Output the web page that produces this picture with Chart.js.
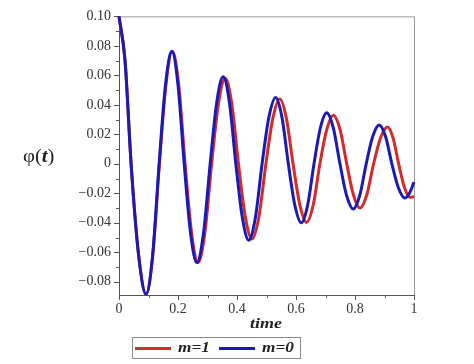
<!DOCTYPE html>
<html>
<head>
<meta charset="utf-8">
<script src="https://cdn.jsdelivr.net/npm/chart.js@4"></script>
<style>
  body { margin: 0; background: #fff; }
  #wrap { position: relative; width: 474px; height: 364px; font-family: "Liberation Serif", serif; color: #222; }
  #chart { position: absolute; left: 0; top: 0; }
  .lbl { position: absolute; white-space: nowrap; transform-origin: center; }
  #ylab { left: 25px; top: 146px; font-size: 18px; transform: scaleX(1.15); }
  #xlab { left: 248px; top: 315px; font-size: 15px; font-weight: bold; font-style: italic; width: 36px; text-align: center; transform: scaleX(1.2); }
  #legend { position: absolute; left: 132px; top: 337px; width: 169px; height: 22px; border: 1px solid #888; box-sizing: border-box; }
  .sw { position: absolute; top: 9px; width: 36px; height: 3px; }
  .lt { position: absolute; top: 1px; font-size: 15px; font-weight: bold; font-style: italic; transform: scaleX(1.15); transform-origin: left center; }
</style>
</head>
<body>
<div id="wrap">
  <canvas id="chart" width="474" height="364"></canvas>
  <div id="ylab" class="lbl">φ(<b><i>t</i></b>)</div>
  <div id="xlab" class="lbl">time</div>
  <div id="legend">
    <div class="sw" style="left:2px;background:#d42a2a"></div>
    <div class="lt" style="left:45px">m=1</div>
    <div class="sw" style="left:86px;background:#1a1ab4"></div>
    <div class="lt" style="left:129px">m=0</div>
  </div>
</div>
<script>
// values (extremes, zero crossings and points in between)
const tRed = [0, 0.0205, 0.041, 0.0665, 0.092, 0.1145, 0.137, 0.159, 0.181, 0.2025, 0.224, 0.246, 0.268, 0.291, 0.314,
    0.337, 0.36, 0.3825, 0.405, 0.428, 0.451, 0.4745, 0.498, 0.5215, 0.545, 0.5675, 0.59, 0.613, 0.636, 0.6585, 0.681,
    0.704, 0.727, 0.7495, 0.772, 0.7945, 0.817, 0.84, 0.863, 0.8865, 0.91, 0.929, 0.948, 0.9675, 0.987, 1.0];
const phiRed = [0.1, 0.07, 0, -0.062, -0.0885, -0.062, 0, 0.0534, 0.0763, 0.0534, 0, -0.0469, -0.067, -0.0469, 0,
    0.0406, 0.058, 0.0406, 0, -0.0357, -0.051, -0.0357, 0, 0.0308, 0.044, 0.0308, 0, -0.0278, -0.0397, -0.0278, 0,
    0.0231, 0.033, 0.0231, 0, -0.021, -0.030, -0.021, 0, 0.0175, 0.025, 0.0175, 0, -0.016, -0.0228, -0.0222];

const tBlue = [0, 0.0205, 0.041, 0.0665, 0.092, 0.114, 0.136, 0.1575, 0.179, 0.2, 0.221, 0.2425, 0.264, 0.2865, 0.309,
    0.331, 0.353, 0.3745, 0.396, 0.418, 0.44, 0.4625, 0.485, 0.508, 0.531, 0.5525, 0.574, 0.596, 0.618, 0.6395, 0.661,
    0.6825, 0.704, 0.7265, 0.749, 0.7715, 0.794, 0.816, 0.838, 0.86, 0.882, 0.9035, 0.925, 0.947, 0.969, 0.985, 1.0];
const phiBlue = [0.1, 0.07, 0, -0.062, -0.0885, -0.062, 0, 0.0534, 0.0763, 0.0534, 0, -0.0469, -0.067, -0.0469, 0,
    0.0413, 0.059, 0.0413, 0, -0.0363, -0.0518, -0.0363, 0, 0.0315, 0.045, 0.0315, 0, -0.028, -0.040, -0.028, 0,
    0.0243, 0.0347, 0.0243, 0, -0.0215, -0.0307, -0.0215, 0, 0.0185, 0.0264, 0.0185, 0, -0.0162, -0.0232, -0.0198, -0.0124];

const xTicks = [0, 0.2, 0.4, 0.6, 0.8, 1];
const xMinor = [0.1, 0.3, 0.5, 0.7, 0.9];
const yTicks = [-0.08, -0.06, -0.04, -0.02, 0, 0.02, 0.04, 0.06, 0.08, 0.1];
const yMinor = [-0.07, -0.05, -0.03, -0.01, 0.01, 0.03, 0.05, 0.07, 0.09];

const toPoints = (ts, ys) => ts.map((t, i) => ({ x: t, y: ys[i] }));

// frame + tick marks like the maple plot
const framePlugin = {
    id: 'frame',
    beforeDatasetsDraw(chart) {
        const { ctx, chartArea: a, scales } = chart;
        ctx.save();
        ctx.lineWidth = 1;
        ctx.strokeStyle = '#999';
        ctx.beginPath();
        ctx.moveTo(a.left, a.top + 0.5);
        ctx.lineTo(a.right + 0.5, a.top + 0.5);
        ctx.lineTo(a.right + 0.5, a.bottom);
        ctx.stroke();
        ctx.strokeStyle = '#555';
        ctx.beginPath();
        ctx.moveTo(a.left + 0.5, a.top);
        ctx.lineTo(a.left + 0.5, a.bottom + 0.5);
        ctx.lineTo(a.right, a.bottom + 0.5);
        ctx.stroke();
        ctx.beginPath();
        yTicks.forEach(v => { const y = Math.round(scales.y.getPixelForValue(v)) + 0.5; ctx.moveTo(a.left - 5, y); ctx.lineTo(a.left, y); });
        yMinor.forEach(v => { const y = Math.round(scales.y.getPixelForValue(v)) + 0.5; ctx.moveTo(a.left - 3, y); ctx.lineTo(a.left, y); });
        xTicks.forEach(v => { const x = Math.round(scales.x.getPixelForValue(v)) + 0.5; ctx.moveTo(x, a.bottom); ctx.lineTo(x, a.bottom + 5); });
        xMinor.forEach(v => { const x = Math.round(scales.x.getPixelForValue(v)) + 0.5; ctx.moveTo(x, a.bottom); ctx.lineTo(x, a.bottom + 3); });
        ctx.stroke();
        ctx.restore();
    }
};

const ctx = document.getElementById('chart').getContext('2d');

new Chart(ctx, {
    type: 'line',
    data: {
        datasets: [{
            label: 'm=1',
            data: toPoints(tRed, phiRed),
            borderColor: '#d42a2a',
            order: 1
        }, {
            label: 'm=0',
            data: toPoints(tBlue, phiBlue),
            borderColor: '#1a1ab4',
            order: 0
        }]
    },
    options: {
        responsive: false,
        animation: false,
        layout: { padding: { top: 13, right: 60, left: 0, bottom: 0 } },
        elements: {
            line: { borderWidth: 3, cubicInterpolationMode: 'monotone', fill: false, borderJoinStyle: 'round' },
            point: { radius: 0 }
        },
        datasets: { line: { clip: false } },
        plugins: { legend: { display: false }, tooltip: { enabled: false } },
        scales: {
            x: {
                type: 'linear',
                min: 0,
                max: 1,
                afterBuildTicks: s => { s.ticks = xTicks.map(v => ({ value: v })); },
                afterFit: s => { s.height = 69; },
                grid: { display: false, drawTicks: false },
                border: { display: false },
                ticks: {
                    padding: 6,
                    maxRotation: 0,
                    color: '#333',
                    font: { family: 'Liberation Serif', size: 14 },
                    callback: v => String(v)
                }
            },
            y: {
                min: -0.089,
                max: 0.1,
                afterBuildTicks: s => { s.ticks = yTicks.map(v => ({ value: v })); },
                afterFit: s => { s.width = 119; },
                grid: { display: false, drawTicks: false },
                border: { display: false },
                ticks: {
                    padding: 8,
                    color: '#333',
                    font: { family: 'Liberation Serif', size: 14 },
                    callback: v => v === 0 ? '0' : v.toFixed(2).replace('-', '\u2212')
                }
            }
        }
    },
    plugins: [framePlugin]
});
</script>
</body>
</html>
